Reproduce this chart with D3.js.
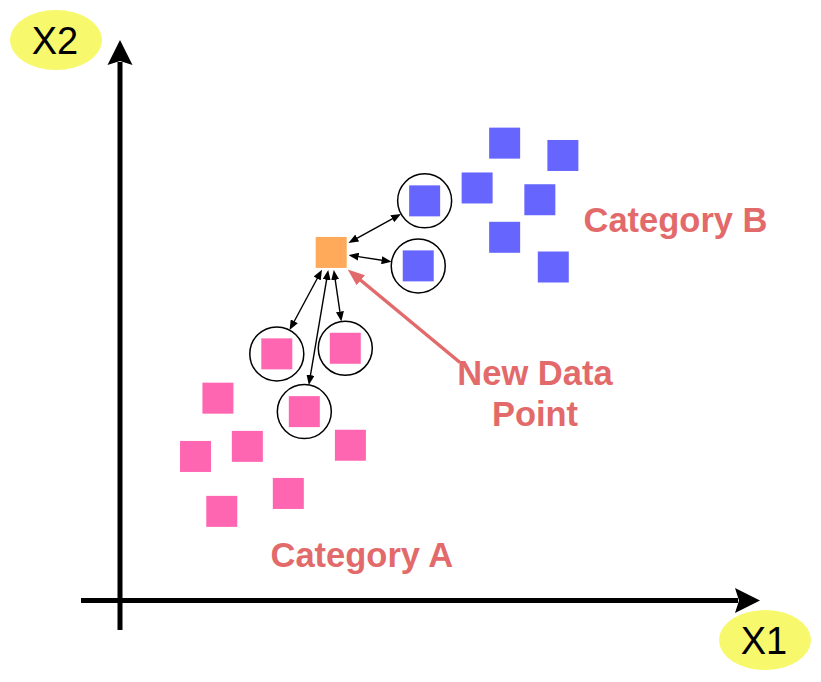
<!DOCTYPE html>
<html>
<head>
<meta charset="utf-8">
<script src="https://cdn.jsdelivr.net/npm/d3@7/dist/d3.min.js"></script>
<style>
  html, body { margin: 0; padding: 0; background: #ffffff; }
  svg { display: block; }
  text { font-family: "Liberation Sans", Arial, Helvetica, sans-serif; }
</style>
</head>
<body>
<svg id="chart" width="821" height="682"></svg>
<script>
// ---- Data (X1, X2) ----
const categoryA = [[1.53, 3.61], [1.18, 2.57], [1.99, 2.75], [1.59, 1.59], [2.63, 1.91], [3.60, 2.77]];
const neighborsA = [[2.88, 3.37], [2.45, 4.40], [3.52, 4.50]];
const categoryB = [[6.01, 8.16], [6.92, 7.94], [5.58, 7.36], [6.56, 7.15], [6.01, 6.48], [6.77, 5.95]];
const neighborsB = [[4.76, 7.13], [4.66, 5.97]];
const newPoint = [3.30, 6.21];
const axisLabels = ["X1", "X2"];
const categoryLabels = ["Category A", "Category B"];
const newPointLabel = ["New Data", "Point"];

// ---- Setup ----
const svg = d3.select("#chart");
const x = d3.scaleLinear().domain([0, 10]).range([120, 760]);
const y = d3.scaleLinear().domain([0, 10]).range([600.5, 40]);

const pink = "#ff66b2", blue = "#6666ff", orange = "#ffaa5a", red = "#e36a6a", yellow = "#f8f86c";
const sq = 31, ringR = 27;

const defs = svg.append("defs");
defs.append("marker").attr("id", "blk")
  .attr("viewBox", "0 0 10 8").attr("markerWidth", 10).attr("markerHeight", 8)
  .attr("refX", 2).attr("refY", 4).attr("orient", "auto-start-reverse")
  .attr("markerUnits", "userSpaceOnUse")
  .append("path").attr("d", "M0,0 L10,4 L0,8 Z").attr("fill", "#000");
defs.append("marker").attr("id", "redm")
  .attr("viewBox", "0 0 17 13").attr("markerWidth", 17).attr("markerHeight", 13)
  .attr("refX", 4).attr("refY", 6.5).attr("orient", "auto")
  .attr("markerUnits", "userSpaceOnUse")
  .append("path").attr("d", "M0,0 L17,6.5 L0,13 Z").attr("fill", red);

// ---- Axes (plain arrows) ----
const [x0, x1] = x.range();
const [y0, y1] = y.range();
const ax = svg.append("g");
ax.append("line").attr("x1", x0).attr("y1", y0 + 29.5).attr("x2", x0).attr("y2", y1 + 22)
  .attr("stroke", "#000").attr("stroke-width", 5);
ax.append("line").attr("x1", x0 - 39).attr("y1", y0).attr("x2", x1 - 22).attr("y2", y0)
  .attr("stroke", "#000").attr("stroke-width", 5);
ax.append("path")
  .attr("d", `M${x0},${y1} L${x0 + 12.5},${y1 + 25} L${x0},${y1 + 21} L${x0 - 12.5},${y1 + 25} Z`)
  .attr("fill", "#000");
ax.append("path")
  .attr("d", `M${x1},${y0} L${x1 - 25},${y0 + 12.5} L${x1 - 21},${y0} L${x1 - 25},${y0 - 12.5} Z`)
  .attr("fill", "#000");

// Axis label bubbles
const bubbles = [
  { t: axisLabels[1], cx: 56, cy: 40 },
  { t: axisLabels[0], cx: 765, cy: 640 }
];
const bg = svg.append("g").selectAll("g").data(bubbles).join("g");
bg.append("ellipse").attr("cx", d => d.cx).attr("cy", d => d.cy)
  .attr("rx", 46).attr("ry", 30).attr("fill", yellow);
bg.append("text").attr("x", d => d.cx - 1).attr("y", d => d.cy + 13.5)
  .attr("text-anchor", "middle").attr("font-size", 38).attr("fill", "#000")
  .text(d => d.t);

// ---- Neighbour arrows ----
const nc = [x(newPoint[0]), y(newPoint[1])];
const allNeighbors = neighborsA.concat(neighborsB);
svg.append("g").selectAll("line").data(allNeighbors).join("line")
  .each(function(d) {
    const tx = x(d[0]), ty = y(d[1]);
    const dx = tx - nc[0], dy = ty - nc[1];
    const L = Math.hypot(dx, dy), ux = dx / L, uy = dy / L;
    const ts = (sq / 2) / Math.max(Math.abs(ux), Math.abs(uy)) + 2 + 8;
    const te = ringR + 8;
    d3.select(this)
      .attr("x1", nc[0] + ux * ts).attr("y1", nc[1] + uy * ts)
      .attr("x2", tx - ux * te).attr("y2", ty - uy * te);
  })
  .attr("stroke", "#000").attr("stroke-width", 1.4)
  .attr("marker-start", "url(#blk)").attr("marker-end", "url(#blk)");

// Rings around nearest neighbours
svg.append("g").selectAll("circle").data(allNeighbors).join("circle")
  .attr("cx", d => x(d[0])).attr("cy", d => y(d[1])).attr("r", ringR)
  .attr("fill", "none").attr("stroke", "#000").attr("stroke-width", 1.5);

// ---- Squares ----
function squares(data, color) {
  svg.append("g").selectAll("rect").data(data).join("rect")
    .attr("x", d => x(d[0]) - sq / 2).attr("y", d => y(d[1]) - sq / 2)
    .attr("width", sq).attr("height", sq).attr("fill", color);
}
squares(categoryA.concat(neighborsA), pink);
squares(categoryB.concat(neighborsB), blue);
squares([newPoint], orange);

// ---- Labels ----
const lab = svg.append("g").attr("fill", red).attr("font-weight", "bold").attr("font-size", 34.5);
lab.append("text").attr("x", 270.5).attr("y", 567).text(categoryLabels[0]);
lab.append("text").attr("x", 583.5).attr("y", 232).text(categoryLabels[1]);
const npx = 535, npy = 384.5;
lab.append("text").attr("x", npx).attr("y", npy).attr("text-anchor", "middle").text(newPointLabel[0]);
lab.append("text").attr("x", npx).attr("y", npy + 41).attr("text-anchor", "middle").text(newPointLabel[1]);

// Red pointer arrow from label to new point
const tip = [nc[0] + 16.5, nc[1] + 17];
const st = [npx - 75, npy - 22];
const rdx = tip[0] - st[0], rdy = tip[1] - st[1], rL = Math.hypot(rdx, rdy);
svg.append("line")
  .attr("x1", st[0]).attr("y1", st[1])
  .attr("x2", tip[0] - rdx / rL * 13).attr("y2", tip[1] - rdy / rL * 13)
  .attr("stroke", red).attr("stroke-width", 3.5)
  .attr("marker-end", "url(#redm)");
</script>
</body>
</html>
